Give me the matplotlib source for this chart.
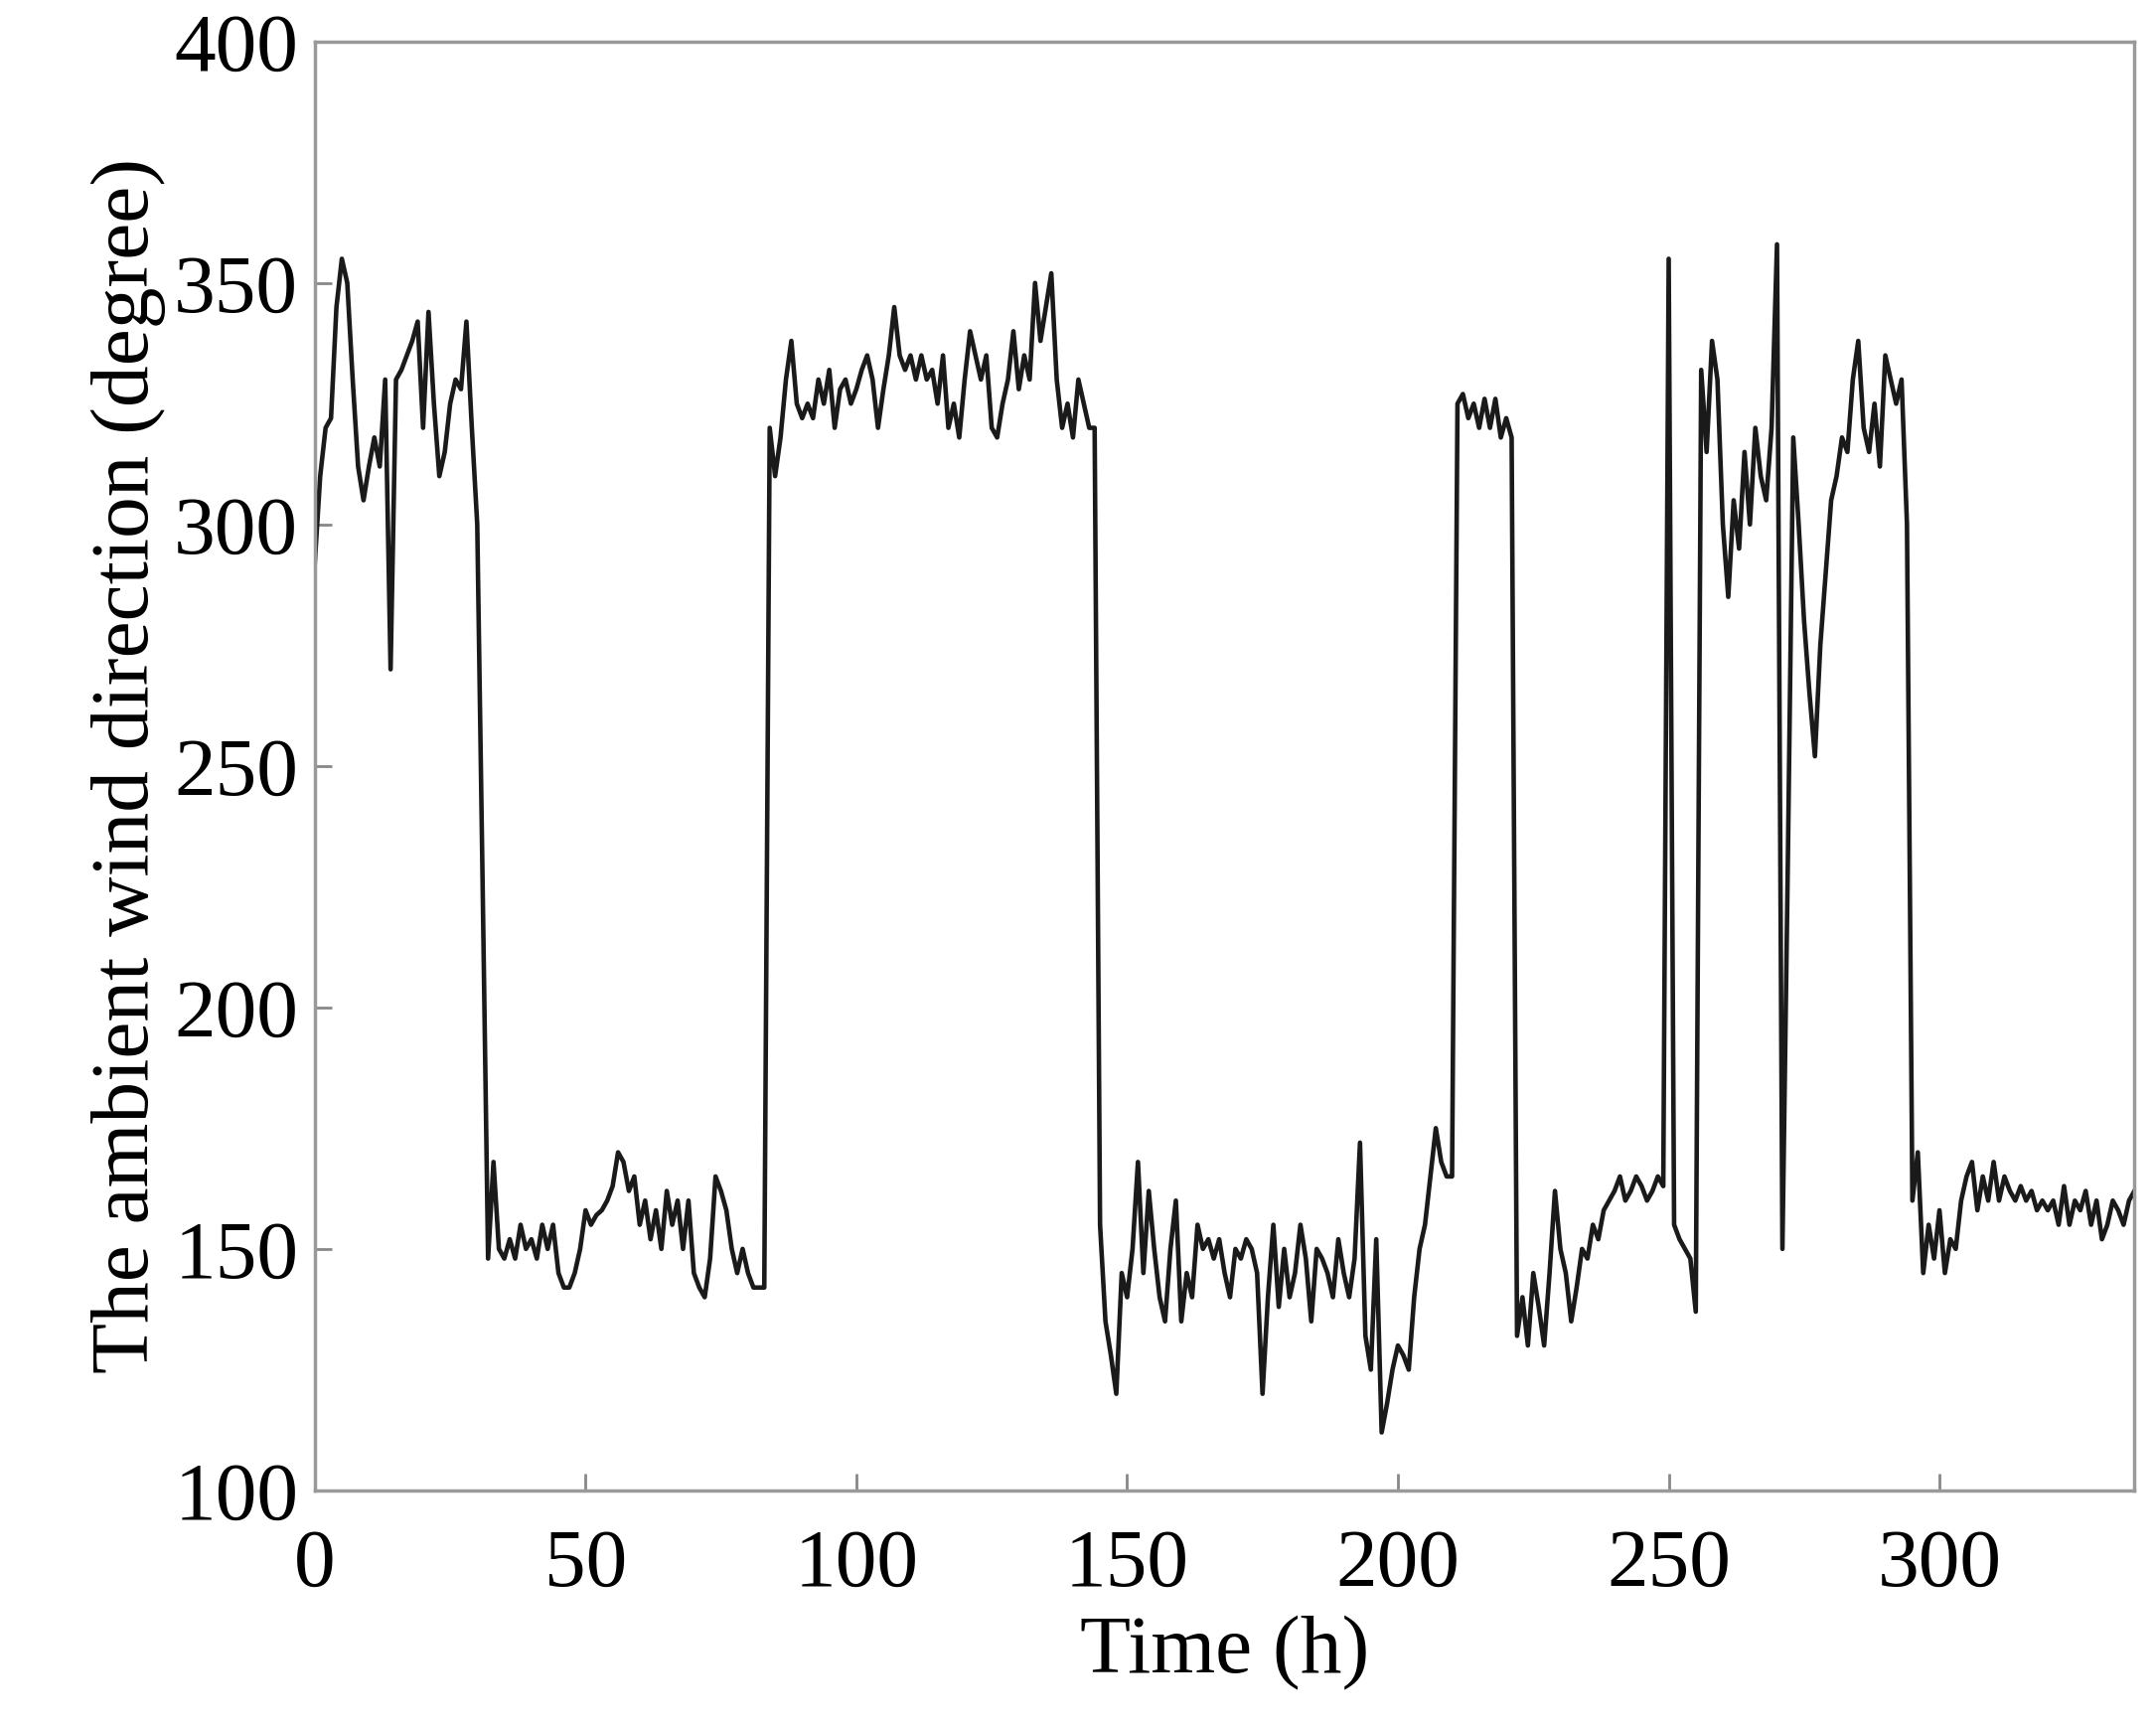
import numpy as np
import matplotlib.pyplot as plt

# hourly wind direction readings, grouped by regime: (start hour, values)
seg_a = [292, 310, 320, 322, 345, 355, 350, 330, 312, 305, 312, 318, 312, 330, 270,
         330, 332, 335, 338, 342, 320, 344, 325, 310, 315, 325, 330, 328, 342, 320, 300, 225]
seg_b = [148, 168, 150, 148, 152, 148, 155, 150, 152, 148, 155, 150, 155, 145, 142, 142,
         145, 150, 158, 155, 157, 158, 160, 163, 170, 168, 162, 165, 155, 160, 152, 158,
         150, 162, 155, 160, 150, 160, 145, 142, 140, 148, 165, 162, 158, 150, 145, 150,
         145, 142, 142, 142]
seg_c = [320, 310, 318, 330, 338, 325, 322, 325, 322, 330, 325, 332, 320, 328, 330, 325,
         328, 332, 335, 330, 320, 328, 335, 345, 335, 332, 335, 330, 335, 330, 332, 325,
         335, 320, 325, 318, 330, 340, 335, 330, 335, 320, 318, 325, 330, 340, 328, 335,
         330, 350, 338, 345, 352, 330, 320, 325, 318, 330, 325, 320]
seg_d = [320, 155, 135, 128, 120, 145, 140, 150, 168, 145, 162, 150, 140, 135, 150, 160,
         135, 145, 140, 155, 150, 152, 148, 152, 145, 140, 150, 148, 152, 150, 145, 120,
         140, 155, 138, 150,
         140, 145, 155, 148, 135, 150, 148, 145, 140, 152, 145, 140, 148, 172, 132, 125,
         152, 112, 118, 125, 130, 128, 125, 140, 150, 155, 165, 175, 168, 165, 165]
seg_e = [325, 327, 322, 325, 320, 326, 320, 326, 318, 322, 318]
seg_f = [132, 140, 130, 145, 138, 130, 145, 162, 150, 145, 135, 142, 150, 148, 155, 152,
         158, 160, 162, 165, 160, 162, 165, 163, 160, 162, 165, 163,
         355, 155, 152, 150, 148, 137,
         332, 315, 338, 330, 300, 285, 305, 295, 315, 300, 320, 310, 305, 320,
         358, 150, 230,
         318, 300, 280, 265, 252, 275, 290, 305, 310, 318, 315, 330, 338, 320, 315, 325,
         312, 335, 330, 325, 330, 300,
         160, 170, 145, 155, 148, 158, 145, 152, 150, 160, 165, 168, 158, 165, 160, 168,
         160, 165, 162, 160, 163, 160, 162, 158, 160, 158, 160, 155, 163, 155, 160, 158,
         162, 155, 160, 152, 155, 160, 158, 155, 160, 162]
seg_starts = [0, 32, 84, 144, 211, 222]
segments = [seg_a, seg_b, seg_c, seg_d, seg_e, seg_f]

hours = np.concatenate([s + np.arange(len(v)) for s, v in zip(seg_starts, segments)])
direction = np.concatenate(segments)

plt.rcParams['font.family'] = ['Liberation Serif', 'DejaVu Serif']
fig = plt.figure(figsize=(21.7, 17.38), dpi=100)
ax = fig.add_axes([0.146, 0.137, 0.844, 0.839])
ax.plot(hours, direction, color='#1a1a1a', lw=3.3)
ax.set_xlim(0, 336)
ax.set_ylim(100, 400)
ax.set_xticks([0, 50, 100, 150, 200, 250, 300])
ax.set_yticks([100, 150, 200, 250, 300, 350, 400])
ax.tick_params(labelsize=60, direction='in', length=12, width=2, color='#888888', pad=12)
ax.tick_params(axis='x', pad=28)
for s in ax.spines.values():
    s.set_color('#999999')
    s.set_linewidth(2.5)
ax.set_xlabel('Time (h)', fontsize=60, labelpad=8)
ax.set_ylabel('The ambient wind direction (degree)', fontsize=60, labelpad=6)
fig.savefig('out.png', dpi=100)
